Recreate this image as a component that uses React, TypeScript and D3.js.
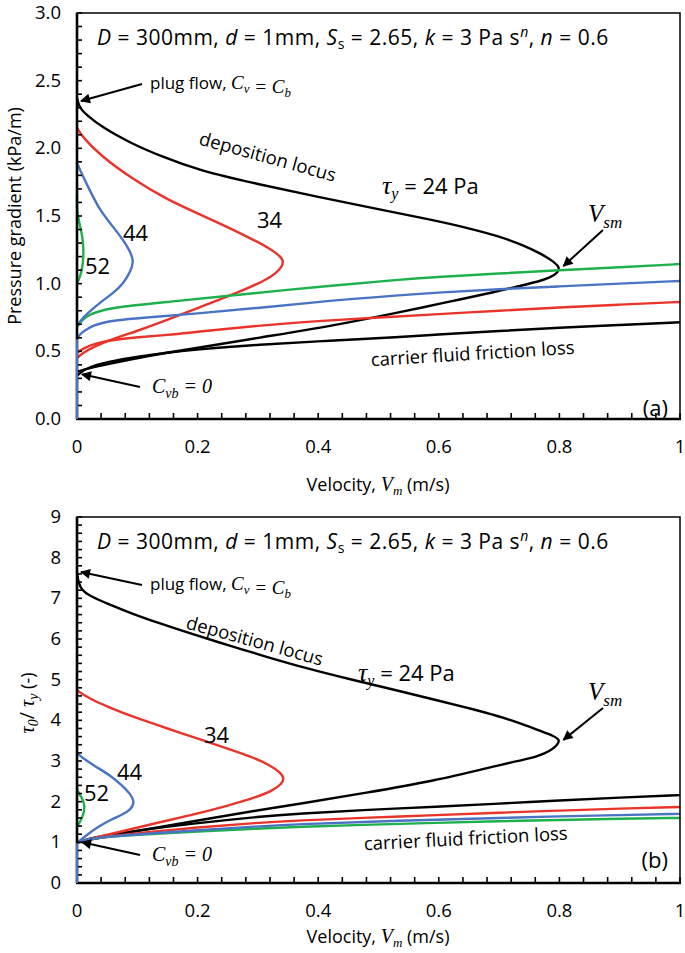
import * as d3 from 'd3';
import React from 'react';

type Pt = [number, number];

// ---- panel (a): pressure gradient (kPa/m) vs velocity (m/s)
const locusA: Pt[] = [
  [0, 2.37], [0.004, 2.3], [0.015, 2.25], [0.04, 2.16], [0.088, 2.04], [0.14, 1.94], [0.2, 1.84],
  [0.3, 1.735], [0.4, 1.64], [0.5, 1.55], [0.585, 1.475], [0.65, 1.41], [0.7, 1.35], [0.74, 1.285],
  [0.77, 1.22], [0.79, 1.165], [0.801, 1.12], [0.797, 1.08], [0.785, 1.045], [0.765, 1.015], [0.74, 0.99],
  [0.7, 0.945], [0.6, 0.85], [0.536, 0.79], [0.42, 0.685], [0.3, 0.6], [0.2, 0.525], [0.149, 0.49],
  [0.1, 0.45], [0.05, 0.405], [0.02, 0.375], [0, 0.35],
];
const frictionA: Pt[] = [
  [0, 0.32], [0.01, 0.36], [0.03, 0.4], [0.06, 0.43], [0.1, 0.46], [0.149, 0.49], [0.2, 0.515],
  [0.3, 0.55], [0.42, 0.578], [0.536, 0.606], [0.6, 0.625], [0.7, 0.65], [0.8, 0.675], [0.9, 0.695], [1, 0.715],
];
const red34A: Pt[] = [
  [0, 2.15], [0.01, 2.08], [0.038, 1.95], [0.093, 1.77], [0.15, 1.62], [0.2, 1.52], [0.249, 1.42],
  [0.29, 1.33], [0.32, 1.26], [0.338, 1.2], [0.343, 1.16], [0.338, 1.11], [0.322, 1.05], [0.3, 1.0],
  [0.27, 0.94], [0.2, 0.82], [0.149, 0.73], [0.1, 0.65], [0.038, 0.56], [0.01, 0.49], [0, 0.45],
];
const redFrictionA: Pt[] = [
  [0, 0.49], [0.01, 0.52], [0.03, 0.56], [0.06, 0.585], [0.1, 0.605], [0.15, 0.62], [0.2, 0.645],
  [0.3, 0.69], [0.4, 0.725], [0.5, 0.75], [0.6, 0.775], [0.7, 0.8], [0.8, 0.825], [0.9, 0.845], [1, 0.865],
];
const blue44A: Pt[] = [
  [0, 1.89], [0.005, 1.84], [0.02, 1.7], [0.038, 1.54], [0.06, 1.42], [0.077, 1.32], [0.088, 1.24],
  [0.094, 1.17], [0.09, 1.1], [0.077, 1.0], [0.06, 0.93], [0.038, 0.86], [0.02, 0.79], [0.01, 0.75], [0, 0.69],
];
const blueFrictionA: Pt[] = [
  [0, 0.59], [0.005, 0.63], [0.015, 0.66], [0.027, 0.69], [0.045, 0.715], [0.066, 0.73],
  [0.1, 0.745], [0.2, 0.78], [0.3, 0.82], [0.42, 0.875], [0.536, 0.915], [0.6, 0.935], [0.7, 0.96],
  [0.8, 0.98], [0.9, 1.0], [1, 1.02],
];
const blueAxisA: Pt[] = [[0, 0], [0, 0.59]];
const green52A: Pt[] = [
  [0, 1.66], [0, 1.52], [0.004, 1.45], [0.009, 1.35], [0.011, 1.25], [0.01, 1.15], [0.007, 1.08], [0.003, 1.03], [0, 1.0],
];
const greenFrictionA: Pt[] = [
  [0, 0.68], [0.008, 0.73], [0.02, 0.77], [0.038, 0.8], [0.071, 0.83], [0.15, 0.865], [0.26, 0.915],
  [0.42, 0.985], [0.536, 1.03], [0.6, 1.05], [0.7, 1.075], [0.8, 1.1], [0.9, 1.12], [1, 1.145],
];

// ---- panel (b): tau0 / tau_y (-) vs velocity (m/s)
const locusB: Pt[] = [
  [0, 7.65], [0.002, 7.4], [0.008, 7.2], [0.02, 7.07], [0.05, 6.87], [0.09, 6.63], [0.14, 6.37],
  [0.185, 6.15], [0.25, 5.85], [0.31, 5.58], [0.38, 5.28], [0.455, 5.0], [0.53, 4.74], [0.6, 4.48],
  [0.65, 4.3], [0.7, 4.1], [0.74, 3.9], [0.77, 3.73], [0.79, 3.62], [0.801, 3.52], [0.797, 3.4],
  [0.785, 3.25], [0.765, 3.12], [0.74, 3.03], [0.7, 2.9], [0.59, 2.5], [0.48, 2.22], [0.37, 1.95],
  [0.3, 1.79], [0.19, 1.51], [0.1, 1.28], [0.05, 1.15], [0.02, 1.06], [0, 1.0],
];
const frictionB: Pt[] = [
  [0, 0.98], [0.01, 1.05], [0.03, 1.12], [0.055, 1.19], [0.1, 1.29], [0.19, 1.46], [0.3, 1.63],
  [0.37, 1.71], [0.47, 1.79], [0.6, 1.88], [0.7, 1.95], [0.8, 2.03], [0.9, 2.1], [1, 2.16],
];
const red34B: Pt[] = [
  [0, 4.74], [0.01, 4.63], [0.03, 4.47], [0.055, 4.31], [0.09, 4.1], [0.138, 3.86], [0.2, 3.55],
  [0.25, 3.3], [0.29, 3.1], [0.32, 2.9], [0.337, 2.72], [0.344, 2.57], [0.339, 2.43], [0.325, 2.28],
  [0.3, 2.12], [0.25, 1.9], [0.19, 1.67], [0.13, 1.47], [0.083, 1.3], [0.04, 1.15], [0.01, 1.03], [0, 0.98],
];
const redFrictionB: Pt[] = [
  [0, 0.98], [0.01, 1.04], [0.03, 1.1], [0.055, 1.15], [0.1, 1.23], [0.2, 1.37], [0.3, 1.48],
  [0.37, 1.54], [0.47, 1.6], [0.6, 1.67], [0.7, 1.73], [0.8, 1.78], [0.9, 1.83], [1, 1.87],
];
const blue44B: Pt[] = [
  [0, 3.19], [0.01, 3.07], [0.03, 2.87], [0.055, 2.65], [0.075, 2.4], [0.088, 2.2], [0.096, 1.99],
  [0.089, 1.8], [0.075, 1.68], [0.055, 1.55], [0.035, 1.38], [0.016, 1.18], [0, 0.98],
];
const blueFrictionB: Pt[] = [
  [0, 0.98], [0.01, 1.04], [0.03, 1.1], [0.055, 1.14], [0.1, 1.2], [0.2, 1.3], [0.3, 1.39],
  [0.37, 1.45], [0.47, 1.5], [0.6, 1.56], [0.7, 1.6], [0.8, 1.64], [0.9, 1.67], [1, 1.7],
];
const blueAxisB: Pt[] = [[0, 0], [0, 0.98]];
const green52B: Pt[] = [
  [0, 2.33], [0.003, 2.2], [0.01, 2.05], [0.013, 1.87], [0.011, 1.7], [0.006, 1.53], [0.002, 1.43], [0, 1.38],
];
const greenFrictionB: Pt[] = [
  [0, 0.98], [0.01, 1.04], [0.03, 1.1], [0.055, 1.14], [0.1, 1.18], [0.2, 1.27], [0.3, 1.34],
  [0.37, 1.38], [0.47, 1.43], [0.6, 1.48], [0.7, 1.52], [0.8, 1.55], [0.9, 1.58], [1, 1.6],
];

const xTicks = [0, 0.2, 0.4, 0.6, 0.8, 1];
const yTicksA = [0, 0.5, 1, 1.5, 2, 2.5, 3];
const yTicksB = [0, 1, 2, 3, 4, 5, 6, 7, 8, 9];

const RED = '#e8342a';
const BLUE = '#4a73c3';
const GREEN = '#1db04c';
const SANS = '"Open Sans", Lato, sans-serif';
const SERIF = '"Liberation Serif", "DejaVu Serif", serif';

const x = d3.scaleLinear().domain([0, 1]).range([77, 680]);

const Panel = ({ top, bottom, yMax, yTicks, minor, fmt, series, titleGap, children }) => {
  const y = d3.scaleLinear().domain([0, yMax]).range([bottom, top]);
  const line = d3
    .line<Pt>()
    .x((d) => x(d[0]))
    .y((d) => y(d[1]))
    .curve(d3.curveBasis);
  const straight = d3
    .line<Pt>()
    .x((d) => x(d[0]))
    .y((d) => y(d[1]));
  const xMinor = d3.range(0, 1.0001, 0.04);
  const yMinor = d3.range(0, yMax + 1e-6, minor);
  return (
    <g>
      {series
        .filter((s) => !s.axis)
        .map((s, i) => (
          <path key={i} d={line(s.data) || ''} fill="none" stroke={s.color} strokeWidth={2.4} strokeLinejoin="round" />
        ))}
      <rect x={x(0)} y={top} width={x(1) - x(0)} height={bottom - top} fill="none" stroke="#000" strokeWidth={1.5} />
      <line x1={x(0)} x2={x(0)} y1={top} y2={bottom} stroke="#000" strokeWidth={2.6} />
      <line x1={x(0) - 1} x2={x(1) + 1} y1={bottom} y2={bottom} stroke="#000" strokeWidth={2.6} />
      {xMinor.map((t, i) => (
        <line key={'xm' + i} x1={x(t)} x2={x(t)} y1={bottom} y2={bottom - 6} stroke="#000" strokeWidth={1.6} />
      ))}
      {yMinor.map((t, i) => (
        <line key={'ym' + i} x1={x(0)} x2={x(0) + 5} y1={y(t)} y2={y(t)} stroke="#000" strokeWidth={1.6} />
      ))}
      {series
        .filter((s) => s.axis)
        .map((s, i) => (
          <path key={'ax' + i} d={straight(s.data) || ''} stroke={s.color} strokeWidth={2} fill="none" />
        ))}
      {xTicks.map((t) => (
        <text key={'xt' + t} x={x(t)} y={bottom + 34} textAnchor="middle" fontFamily={SANS} fontSize={18.5}>
          {d3.format('~g')(t)}
        </text>
      ))}
      {yTicks.map((t) => (
        <text key={'yt' + t} x={x(0) - 16} y={y(t) + 6} textAnchor="end" fontFamily={SANS} fontSize={18.5}>
          {fmt(t)}
        </text>
      ))}
      <text x={378} y={bottom + titleGap} textAnchor="middle" fontFamily={SANS} fontSize={18}>
        {'Velocity, '}
        <tspan fontFamily={SERIF} fontStyle="italic" fontSize={20}>V</tspan>
        <tspan fontFamily={SERIF} fontStyle="italic" fontSize={13} dy={4}>m</tspan>
        <tspan dy={-4}>{' (m/s)'}</tspan>
      </text>
      <text x={97} y={top + 32} fontFamily={SANS} fontSize={21} letterSpacing={0.5}>
        <tspan fontStyle="italic">D</tspan>
        {' = 300mm, '}
        <tspan fontStyle="italic">d</tspan>
        {' = 1mm, '}
        <tspan fontStyle="italic">S</tspan>
        <tspan fontSize={14} dy={4}>s</tspan>
        <tspan dy={-4}>{' = 2.65, '}</tspan>
        <tspan fontStyle="italic">k</tspan>
        {' = 3 Pa s'}
        <tspan fontSize={14} fontStyle="italic" dy={-8}>n</tspan>
        <tspan dy={8}>{', '}</tspan>
        <tspan fontStyle="italic">n</tspan>
        {' = 0.6'}
      </text>
      {children(y)}
    </g>
  );
};

const Arrow = ({ x1, y1, x2, y2 }) => (
  <line x1={x1} y1={y1} x2={x2} y2={y2} stroke="#000" strokeWidth={2} markerEnd="url(#ah)" />
);

const Sub = ({ main, sub, size = 20 }) => (
  <>
    <tspan fontFamily={SERIF} fontStyle="italic" fontSize={size}>{main}</tspan>
    <tspan fontFamily={SERIF} fontStyle="italic" fontSize={size * 0.68} dy={size * 0.22}>{sub}</tspan>
    <tspan dy={-size * 0.22}>{''}</tspan>
  </>
);

const App = () => {
  const seriesA = [
    { data: frictionA, color: '#000' },
    { data: locusA, color: '#000' },
    { data: redFrictionA, color: RED },
    { data: red34A, color: RED },
    { data: green52A, color: GREEN },
    { data: greenFrictionA, color: GREEN },
    { data: blue44A, color: BLUE },
    { data: blueFrictionA, color: BLUE },
    { data: blueAxisA, color: BLUE, axis: true },
  ];
  const seriesB = [
    { data: frictionB, color: '#000' },
    { data: locusB, color: '#000' },
    { data: red34B, color: RED },
    { data: redFrictionB, color: RED },
    { data: green52B, color: GREEN },
    { data: greenFrictionB, color: GREEN },
    { data: blue44B, color: BLUE },
    { data: blueFrictionB, color: BLUE },
    { data: blueAxisB, color: BLUE, axis: true },
  ];

  const notes = (plug, locus, tau, vsm, l34, l44, l52, carrier, cvb, tag) => (
    <g fontFamily={SANS}>
      <text x={150} y={plug[0]} fontSize={17}>
        {'plug flow, '}
        <Sub main="C" sub="v" size={19} />
        <tspan fontFamily={SERIF} fontStyle="italic" fontSize={19}>{' = '}</tspan>
        <Sub main="C" sub="b" size={19} />
      </text>
      <Arrow x1={142} y1={plug[0] - 5} x2={x(0) + 4} y2={plug[1]} />
      <text transform={`translate(${locus[0]},${locus[1]}) rotate(${locus[2]})`} textAnchor="middle" fontSize={18.5}>
        deposition locus
      </text>
      <text x={tau[0]} y={tau[1]} fontSize={22}>
        <tspan fontFamily={SERIF} fontStyle="italic" fontSize={26}>τ</tspan>
        <tspan fontFamily={SERIF} fontStyle="italic" fontSize={16} dy={5}>y</tspan>
        <tspan dy={-5}>{' = 24 Pa'}</tspan>
      </text>
      <text x={vsm[0]} y={vsm[1]} fontFamily={SERIF} fontStyle="italic">
        <tspan fontSize={25}>V</tspan>
        <tspan fontSize={17} dy={6}>sm</tspan>
      </text>
      <Arrow x1={vsm[0] + 15} y1={vsm[1] + 8} x2={x(0.8) + 4} y2={vsm[2]} />
      <text x={l34[0]} y={l34[1]} fontSize={22}>34</text>
      <text x={l44[0]} y={l44[1]} fontSize={22}>44</text>
      <text x={l52[0]} y={l52[1]} fontSize={22}>52</text>
      <text transform={`translate(${carrier[0]},${carrier[1]}) rotate(${carrier[2]})`} textAnchor="middle" fontSize={18.5}>
        carrier fluid friction loss
      </text>
      <text x={152} y={cvb[0]} fontFamily={SERIF} fontStyle="italic" fontSize={20}>
        <tspan>C</tspan>
        <tspan fontSize={14} dy={5}>vb</tspan>
        <tspan dy={-5}>{' = 0'}</tspan>
      </text>
      <Arrow x1={140} y1={cvb[0] - 6} x2={x(0) + 5} y2={cvb[1]} />
      <text x={668} y={tag[1]} textAnchor="end" fontSize={22}>{tag[0]}</text>
    </g>
  );

  return (
    <svg width={685} height={953} style={{ position: 'absolute', left: 0, top: 0, background: '#fff' }}>
      <defs>
        <marker id="ah" viewBox="0 0 10 10" refX="9" refY="5" markerWidth="6" markerHeight="5" orient="auto">
          <path d="M0,0 L10,5 L0,10 z" fill="#000" />
        </marker>
      </defs>
      <Panel top={13} bottom={419} yMax={3} yTicks={yTicksA} minor={0.1} fmt={d3.format('.1f')} series={seriesA} titleGap={72}>
        {(y) =>
          notes(
            [89, y(2.35)],
            [266, 163, 15.5],
            [382, 194],
            [588, 222, y(1.13)],
            [257, 228],
            [123, 241],
            [85, 274],
            [473, 360, -3.5],
            [393, y(0.33)],
            ['(a)', 416],
          )
        }
      </Panel>
      <text transform="translate(21,216) rotate(-90)" textAnchor="middle" fontFamily={SANS} fontSize={18}>
        Pressure gradient (kPa/m)
      </text>
      <Panel top={517} bottom={883} yMax={9} yTicks={yTicksB} minor={0.2} fmt={d3.format('d')} series={seriesB} titleGap={60}>
        {(y) =>
          notes(
            [590, y(7.65)],
            [253, 647, 15.5],
            [358, 681],
            [588, 700, y(3.52)],
            [204, 743],
            [117, 780],
            [84, 801],
            [466, 845, -3],
            [861, y(1.0)],
            ['(b)', 868],
          )
        }
      </Panel>
      <text transform="translate(34,703) rotate(-90)" textAnchor="middle" fontFamily={SANS} fontSize={18}>
        <tspan fontFamily={SERIF} fontStyle="italic" fontSize={20}>τ</tspan>
        <tspan fontFamily={SERIF} fontStyle="italic" fontSize={14} dy={4}>0</tspan>
        <tspan dy={-4} fontSize={20}>/</tspan>
        <tspan fontFamily={SERIF} fontStyle="italic" fontSize={20}>{' τ'}</tspan>
        <tspan fontFamily={SERIF} fontStyle="italic" fontSize={14} dy={4}>y</tspan>
        <tspan dy={-4}>{' (-)'}</tspan>
      </text>
    </svg>
  );
};

export default App;
